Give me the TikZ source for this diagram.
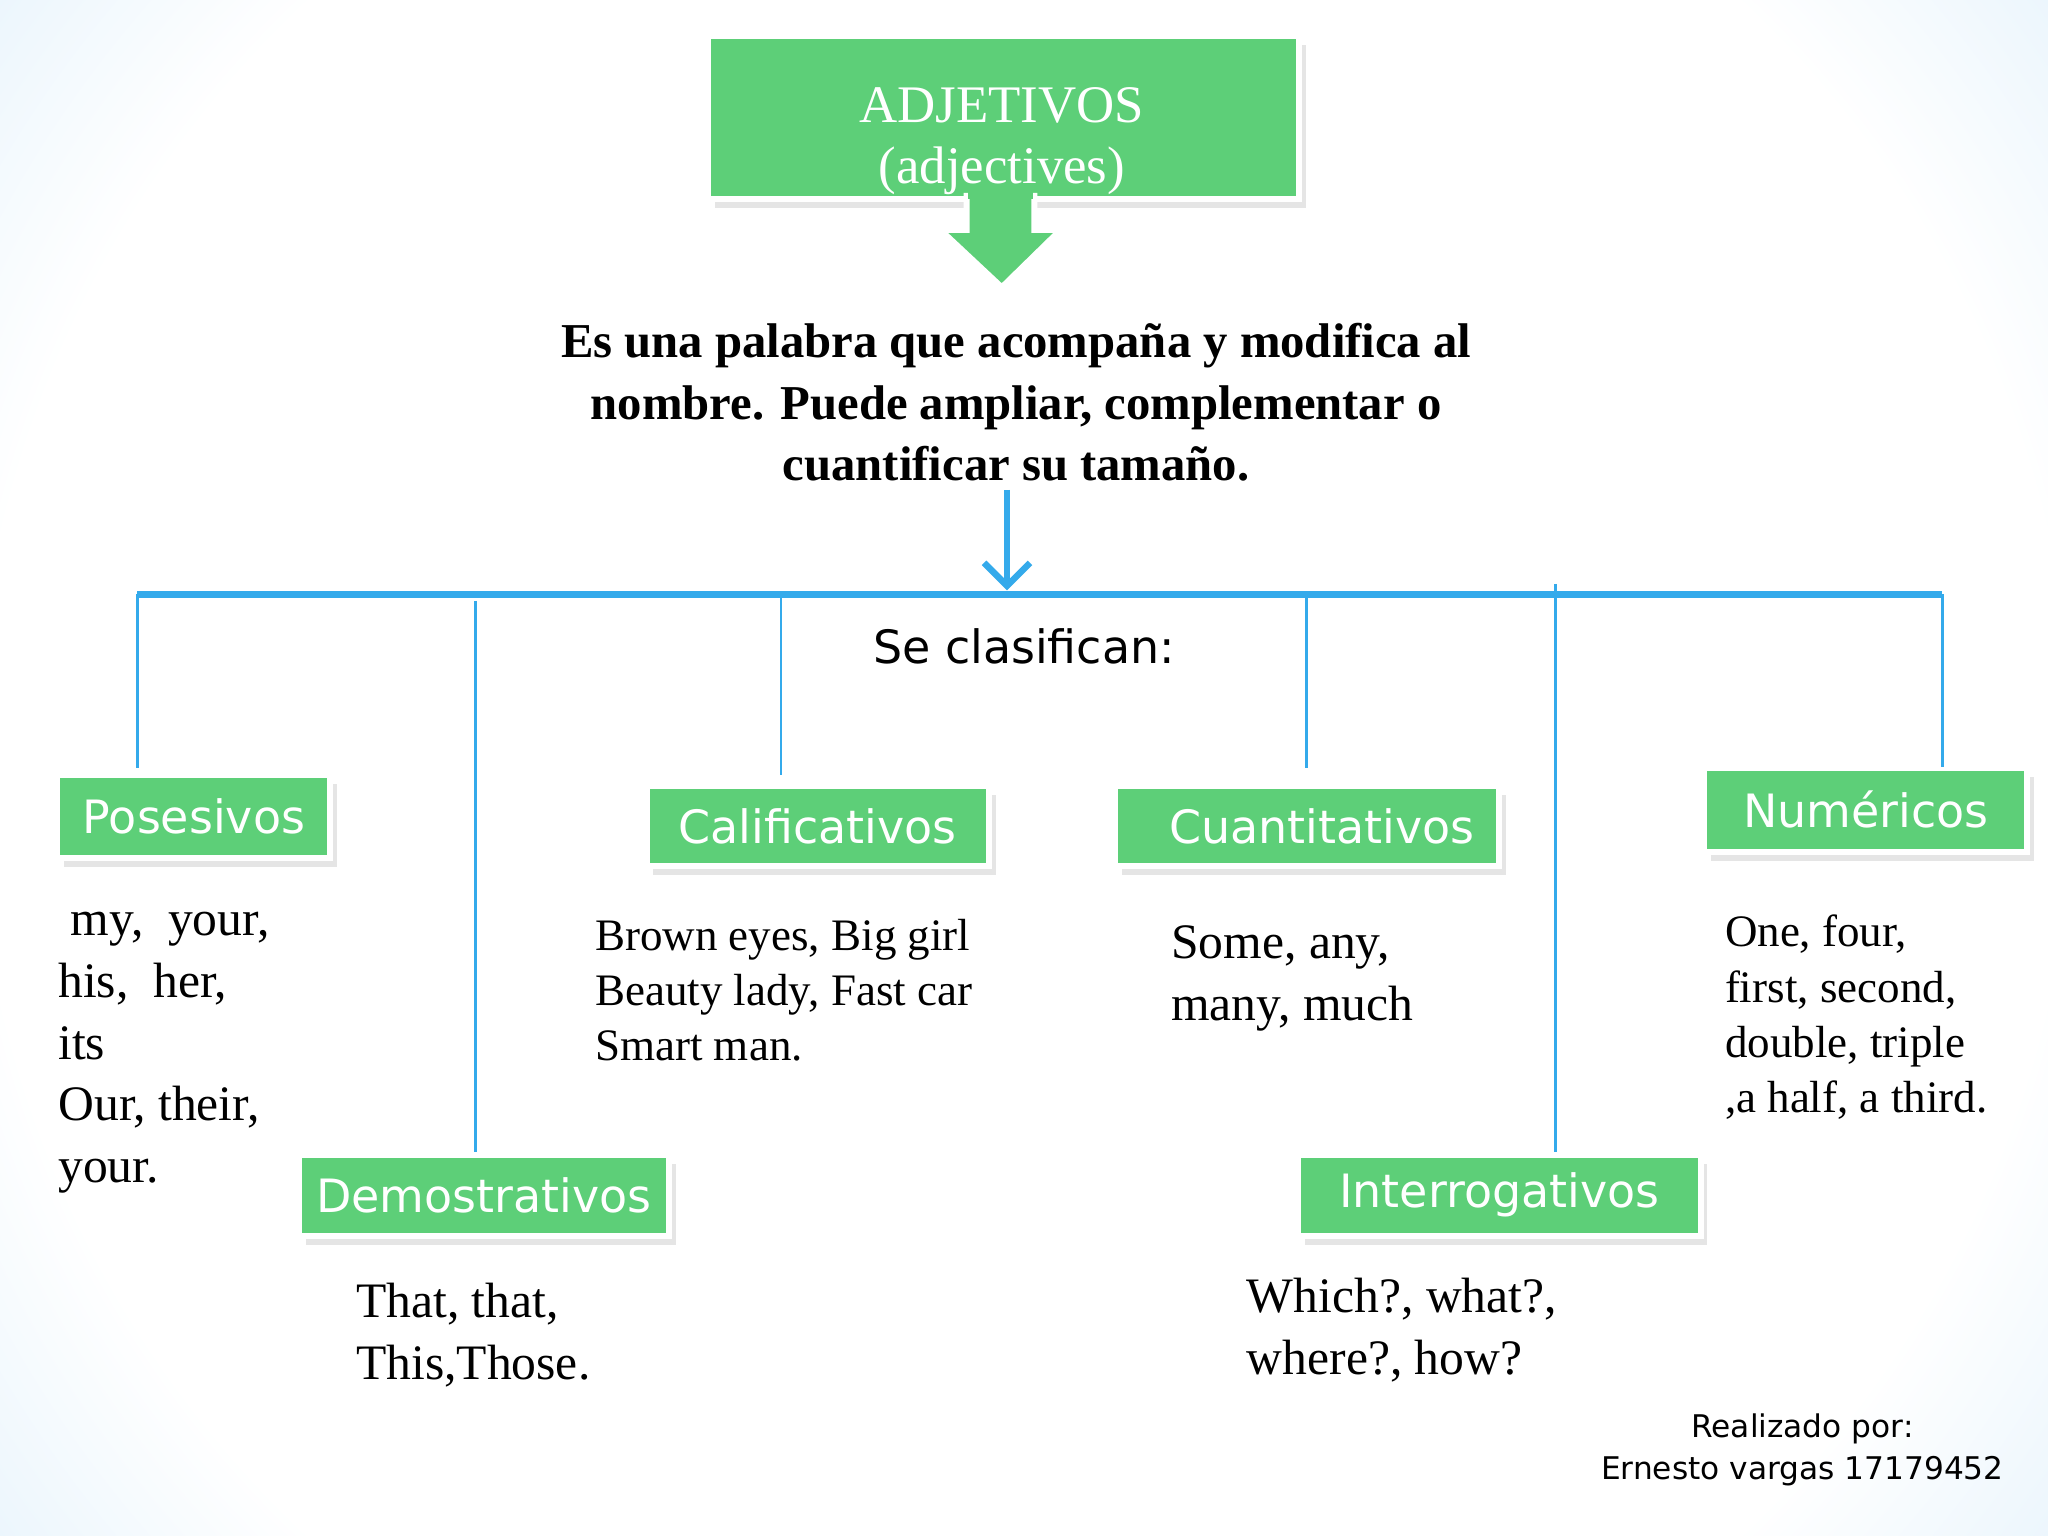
\documentclass[tikz,border=0pt]{standalone}
\usepackage{fontspec}
\setmainfont{Liberation Serif}
\newfontfamily\sansf{DejaVu Sans}
\usetikzlibrary{shadows,arrows.meta}
\definecolor{gr}{RGB}{93,207,120}
\definecolor{bl}{RGB}{52,170,235}
\definecolor{bgout}{RGB}{150,205,242}
\pgfdeclareradialshading{bgsh}{\pgfpoint{0bp}{0bp}}{color(0bp)=(white); color(20bp)=(white); color(30bp)=(white!60!bgout); color(50bp)=(bgout)}
\tikzset{
 gbox/.style={fill=gr,draw=white,line width=1.3pt,drop shadow={opacity=0.2,shadow xshift=1.5pt,shadow yshift=-2pt},text=white,font=\sansf\fontsize{10}{12}\selectfont,inner sep=0pt},
 vline/.style={draw=bl,line width=0.6pt},
 ex/.style={align=left,anchor=north west,inner sep=0pt,font=\fontsize{10.8}{13.4}\selectfont},
}
\begin{document}
\begin{tikzpicture}[x=0.01cm,y=-0.01cm]
\useasboundingbox (0,0) rectangle (1568,1176);
\shade[shading=bgsh] (-216,-412) rectangle (1784,1588);
% top box
\node[gbox,minimum width=452*0.01cm,minimum height=125*0.01cm,anchor=north west] (top) at (540,25) {};
\draw[fill=gr,draw=white,line width=1.3pt] (740,150)--(792,150)--(792,176)--(812,176)--(767,220)--(720,176)--(740,176)--cycle;
\fill[gr] (741,140) rectangle (791,152);
\node[text=white,align=center,font=\fontsize{11.5}{13.4}\selectfont] (ttl) at (767,108) {ADJETIVOS\\(adjectives)};
% description
\node[align=center,font=\bfseries\fontsize{10.6}{13.4}\selectfont] (desc) at (778,308) {Es una palabra que acompaña y modifica al\\nombre. Puede ampliar, complementar o\\cuantificar su tamaño.};
\coordinate (a1) at (771,375);
\coordinate (a2) at (771,452);
\draw[bl,line width=1.4pt,-{Straight Barb[length=5pt]}] (a1)--(a2);
\coordinate (hl) at (105,455); \coordinate (hr) at (1487,455);
\draw[bl,line width=1.6pt] (hl)--(hr);
\node[font=\sansf\fontsize{10}{12}\selectfont] (se) at (784,495) {Se clasifican:};
% boxes
\node[gbox,minimum width=209*0.01cm,minimum height=64*0.01cm] (pos) at (148.5,625) {Posesivos};
\node[gbox,minimum width=262*0.01cm,minimum height=61*0.01cm] (cal) at (626,632.5) {Calificativos};
\node[gbox,minimum width=294*0.01cm,minimum height=61*0.01cm] (cua) at (1001,632.5) {\ \ Cuantitativos};
\node[gbox,minimum width=247*0.01cm,minimum height=64*0.01cm] (num) at (1428.5,620) {Numéricos};
\node[gbox,minimum width=283*0.01cm,minimum height=62*0.01cm] (dem) at (370.5,915) {Demostrativos};
\node[gbox,minimum width=308*0.01cm,minimum height=62*0.01cm] (int) at (1148,915) {Interrogativos};
% verticals
\coordinate (v1) at (105,455); \coordinate (v1b) at (105,588);
\coordinate (v2) at (364,460); \coordinate (v2b) at (364,882);
\coordinate (v3) at (598,455); \coordinate (v3b) at (598,593);
\coordinate (v4) at (1000,455); \coordinate (v4b) at (1000,588);
\coordinate (v5) at (1191,447); \coordinate (v5b) at (1191,882);
\coordinate (v6) at (1487,455); \coordinate (v6b) at (1487,587);
\foreach \a/\b in {v1/v1b,v2/v2b,v3/v3b,v4/v4b,v5/v5b,v6/v6b} \draw[vline] (\a)--(\b);
% examples
\node[ex] (e1) at (44,698) {\ my,\ \ your,\\his,\ \ her,\\its\\Our, their,\\your.};
\node[ex,font=\fontsize{9.8}{12}\selectfont] (e2) at (455,703) {Brown eyes, Big girl\\Beauty lady, Fast car\\Smart man.};
\node[ex] (e3) at (896,708) {Some, any,\\many, much};
\node[ex,font=\fontsize{9.8}{12}\selectfont] (e4) at (1320,700) {One, four,\\first, second,\\double, triple\\,a half, a third.};
\node[ex] (e5) at (272,982) {That, that,\\This,Those.};
\node[ex] (e6) at (954,978) {Which?, what?,\\where?, how?};
\node[align=center,font=\sansf\fontsize{6.8}{9}\selectfont] (auth) at (1380,1110) {Realizado por:\\Ernesto vargas 17179452};
\end{tikzpicture}
\end{document}
